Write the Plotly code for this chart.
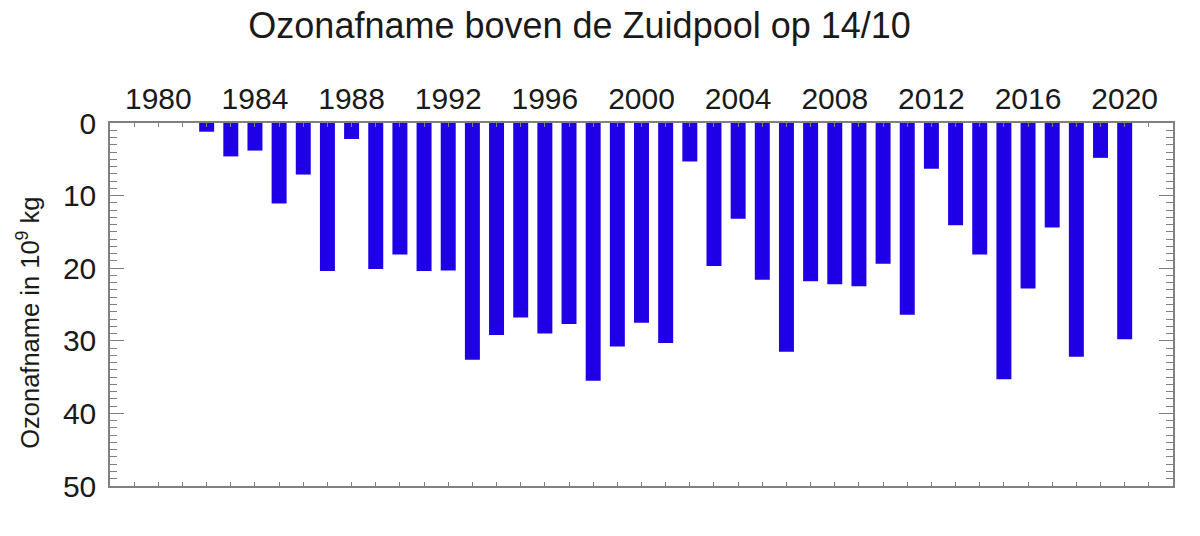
import plotly.graph_objects as go

# Ozonafname boven de Zuidpool op 14/10 (10^9 kg)
years = list(range(1982, 2021))
depletion = [1.2, 4.6, 3.8, 11.1, 7.1, 20.4, 2.2, 20.1, 18.1, 20.4, 20.3,
             32.6, 29.2, 26.8, 29.0, 27.7, 35.5, 30.8, 27.5, 30.3,
             5.3, 19.7, 13.2, 21.6, 31.5, 21.8, 22.2, 22.5, 19.4, 26.4,
             6.3, 14.1, 18.1, 35.3, 22.8, 14.4, 32.2, 4.8, 29.8]
label_years = list(range(1980, 2021, 4))
y_ticks = [0, 10, 20, 30, 40, 50]

grey = '#808080'
font = 'Liberation Sans, Arial, sans-serif'

fig = go.Figure()
fig.add_trace(go.Bar(x=years, y=depletion, width=0.62,
                     marker=dict(color='#1f00e6', line=dict(width=0))))

fig.update_layout(
    width=1200, height=536,
    plot_bgcolor='white', paper_bgcolor='white',
    showlegend=False,
    margin=dict(l=110, r=27, t=123, b=50),
    font=dict(family=font, size=30, color='#1a1a1a'),
    title=dict(text='Ozonafname boven de Zuidpool op 14/10', x=0.483, xref='container',
               xanchor='center', y=0.952, yanchor='middle', font=dict(size=36)),
    xaxis=dict(range=[1978, 2022], side='top', tickvals=label_years,
               ticktext=[str(v) for v in label_years],
               ticks='inside', ticklen=4, tickcolor=grey,
               minor=dict(dtick=1, tick0=1980, ticks='inside', ticklen=4, tickcolor=grey),
               showline=True, linecolor=grey, linewidth=1.5, mirror='allticks',
               showgrid=False, zeroline=False, ticklabelstandoff=0, automargin=False),
    # second axis only for the long decade ticks
    xaxis2=dict(range=[1978, 2022], overlaying='x', anchor='y', side='bottom',
                tick0=1980, dtick=10, ticks='outside', ticklen=8, tickcolor=grey,
                showticklabels=False, mirror='ticks', showgrid=False, zeroline=False,
                automargin=False),
    yaxis=dict(range=[50, 0], tickvals=y_ticks, ticks='inside', ticklen=14,
               tickcolor=grey,
               minor=dict(dtick=1, ticks='inside', ticklen=7, tickcolor=grey),
               showline=True, linecolor=grey, linewidth=1.5, mirror='allticks',
               showgrid=False, zeroline=False, ticklabelstandoff=6, automargin=False),
)

# y title as annotation so it can sit a bit below the middle like the original
fig.add_annotation(text='Ozonafname in 10<sup>9</sup> kg', textangle=-90,
                   xref='paper', yref='paper', x=-0.077, y=0.45,
                   xanchor='center', yanchor='middle', showarrow=False,
                   font=dict(size=25.5))

# page margin off so the figure sits at the top-left corner
fig.write_html('out.html', config={'displayModeBar': False},
               post_script="document.body.style.margin='0';")
